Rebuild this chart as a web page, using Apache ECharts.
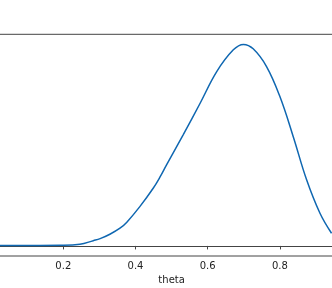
<!DOCTYPE html>
<html>
<head>
<meta charset="utf-8">
<script src="https://cdn.jsdelivr.net/npm/echarts@6/dist/echarts.min.js"></script>
<style>
html,body{margin:0;padding:0;background:#fff;}
#chart{width:332px;height:288px;}
</style>
</head>
<body>
<div id="chart"></div>
<script>
// theta values (x) and relative density values (y)
const theta = [0.0247, 0.108, 0.191, 0.246, 0.283, 0.302, 0.329, 0.357, 0.376, 0.412, 0.449, 0.468, 0.486, 0.532, 0.579, 0.625, 0.671, 0.699, 0.726, 0.763, 0.800, 0.837, 0.874, 0.911, 0.943];
const density = [0.0015, 0.002, 0.003, 0.008, 0.026, 0.036, 0.058, 0.088, 0.118, 0.195, 0.286, 0.342, 0.402, 0.551, 0.708, 0.865, 0.973, 1.000, 0.978, 0.890, 0.741, 0.542, 0.328, 0.162, 0.063];
const xTicks = [0.2, 0.4, 0.6, 0.8];
const xLabel = 'theta';

const chart = echarts.init(document.getElementById('chart'), null, {renderer: 'canvas'});
chart.setOption({
  animation: false,
  backgroundColor: '#fff',
  grid: {left: -8.9, top: 34.3, width: 361, height: 221.7, containLabel: false, outerBoundsMode: 'none',
    show: true, borderColor: '#444', borderWidth: 1, backgroundColor: 'transparent'},
  xAxis: {
    type: 'value', min: 0, max: 1, interval: 0.2,
    name: xLabel, nameLocation: 'middle', nameGap: 15,
    nameTextStyle: {fontFamily: 'DejaVu Sans', fontSize: 10, color: '#222'},
    axisLine: {show: true, lineStyle: {color: '#444', width: 1}},
    axisTick: {show: true, length: 3.5, lineStyle: {color: '#444'}},
    axisLabel: {margin: 5, fontFamily: 'DejaVu Sans', fontSize: 10, color: '#222',
      formatter: v => xTicks.some(t => Math.abs(t - v) < 1e-9) ? v.toFixed(1) : ''},
    splitLine: {show: false}
  },
  yAxis: {
    type: 'value', min: -0.05, max: 1.05, show: false, splitLine: {show: false}
  },
  series: [{
    type: 'line', data: theta.map((t, i) => [t, density[i]]),
    smooth: 0.4, showSymbol: false, symbol: 'none',
    lineStyle: {color: '#0f67b1', width: 1.5}
  }]
});
</script>
</body>
</html>
